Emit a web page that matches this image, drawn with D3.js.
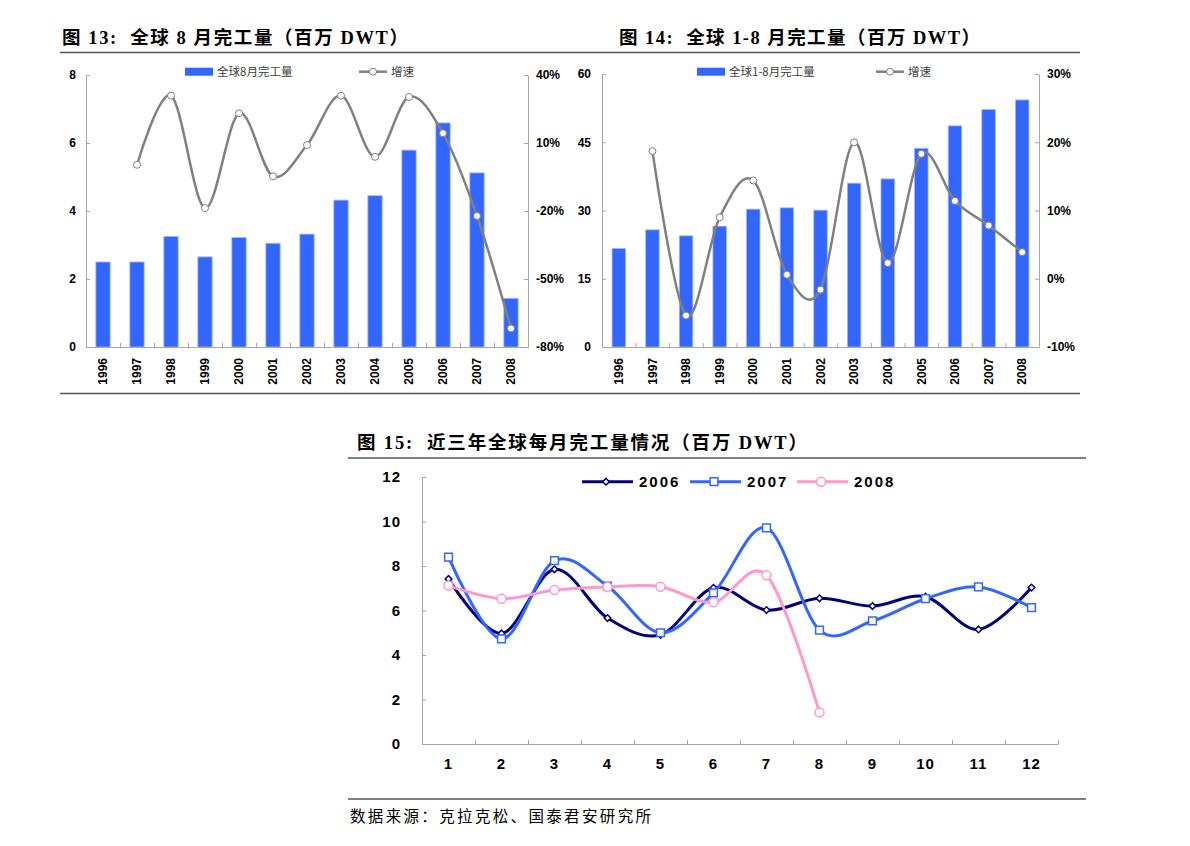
<!DOCTYPE html>
<html>
<head>
<meta charset="utf-8">
<script src="https://cdn.jsdelivr.net/npm/d3@7"></script>
<style>
    body { margin: 0; background: #fff; }
    svg text { font-family: "Liberation Sans", Arial, sans-serif; }
    .title { font-family: "Liberation Serif", "Noto Sans CJK SC", serif; font-weight: bold; font-size: 18.5px; fill: #000; white-space: pre; }
    .source { font-family: "Noto Sans CJK SC", sans-serif; font-size: 15.5px; fill: #000; }
    .axis .domain, .axis .tick line { stroke: #a6a6a6; }
    .axis .tick text { font-weight: bold; fill: #000; }
    .legend { font-family: "Noto Sans CJK SC", "Liberation Sans", sans-serif; font-size: 11.5px; fill: #404040; }
</style>
</head>
<body>
<svg id="chart" width="1190" height="846"></svg>
<script>
// Data
const years = ['1996', '1997', '1998', '1999', '2000', '2001', '2002', '2003', '2004', '2005', '2006', '2007', '2008'];
const augOutput = [2.5, 2.5, 3.25, 2.65, 3.22, 3.05, 3.32, 4.32, 4.45, 5.79, 6.59, 5.12, 1.43];
const augGrowth = [null, 0.4, 30.9, -18.7, 23.1, -4.7, 9.1, 30.9, 3.9, 30.3, 14.3, -22.2, -71.8];
const ytdOutput = [21.65, 25.75, 24.43, 26.55, 30.29, 30.58, 30.07, 36.0, 36.94, 43.67, 48.6, 52.2, 54.3];
const ytdGrowth = [null, 18.7, -5.4, 9.0, 14.4, 0.6, -1.6, 20.0, 2.3, 18.3, 11.4, 7.8, 3.9];

const months = ['1', '2', '3', '4', '5', '6', '7', '8', '9', '10', '11', '12'];
const m2006 = [7.42, 4.97, 7.85, 5.66, 4.91, 7.02, 6.02, 6.55, 6.2, 6.62, 5.15, 7.03];
const m2007 = [8.4, 4.72, 8.24, 7.1, 5.0, 6.79, 9.71, 5.12, 5.53, 6.53, 7.06, 6.13];
const m2008 = [7.12, 6.53, 6.92, 7.06, 7.07, 6.37, 7.58, 1.42];

const svg = d3.select('#chart');

// titles and rules
function title(x, y, txt, len) {
    svg.append('text').attr('class', 'title').attr('x', x).attr('y', y)
        .attr('textLength', len).attr('lengthAdjust', 'spacing').text(txt);
}
function rule(x1, x2, y) {
    svg.append('line').attr('x1', x1).attr('x2', x2).attr('y1', y).attr('y2', y)
        .attr('stroke', '#555').attr('stroke-width', 1.5);
}
title(62, 44, '图 13:  全球 8 月完工量（百万 DWT）', 346);
title(619, 44, '图 14:  全球 1-8 月完工量（百万 DWT）', 361);
title(357, 449, '图 15:  近三年全球每月完工量情况（百万 DWT）', 450);
rule(60, 1080, 52.5);
rule(60, 1080, 393.5);
rule(348, 1086, 458);
rule(348, 1086, 799);
svg.append('text').attr('class', 'source').attr('x', 350).attr('y', 822)
    .attr('textLength', 301).attr('lengthAdjust', 'spacing').text('数据来源：克拉克松、国泰君安研究所');

// bar + growth line combo
function drawCombo(o) {
    const g = svg.append('g');
    const x = d3.scaleBand().domain(years).range([o.x0, o.x1])
        .paddingInner(o.pad).paddingOuter(o.pad / 2);
    const xb = d3.scaleLinear().domain([0, years.length]).range([o.x0, o.x1]);
    const y = d3.scaleLinear().domain([0, o.yMax]).range([o.yB, o.yT]);
    const y2 = d3.scaleLinear().domain(o.y2Dom).range([o.yB, o.yT]);

    g.selectAll('rect.bar').data(o.bars).join('rect')
        .attr('class', 'bar')
        .attr('x', (d, i) => x(years[i]))
        .attr('y', d => y(d))
        .attr('width', x.bandwidth())
        .attr('height', d => o.yB - y(d))
        .attr('fill', '#3366ff')
        .attr('stroke', '#9db4ff')
        .attr('stroke-width', 0.8);

    g.append('g').attr('class', 'axis').attr('transform', `translate(${o.x0},0)`)
        .call(d3.axisLeft(y).tickValues(o.yTicks).tickSizeInner(-4).tickSizeOuter(0).tickPadding(o.lPad))
        .selectAll('text').style('font-size', '12px');
    g.append('g').attr('class', 'axis').attr('transform', `translate(${o.x1},0)`)
        .call(d3.axisRight(y2).tickValues(o.y2Ticks).tickFormat(d => d + '%').tickSizeInner(-4).tickSizeOuter(0).tickPadding(8))
        .selectAll('text').style('font-size', '12px');
    g.append('g').attr('class', 'axis').attr('transform', `translate(0,${o.yB})`)
        .call(d3.axisBottom(xb).tickValues(d3.range(years.length + 1)).tickFormat('').tickSizeInner(-4).tickSizeOuter(0));
    const xl = g.append('g').attr('class', 'axis').attr('transform', `translate(0,${o.yB})`)
        .call(d3.axisBottom(x).tickSize(0));
    xl.select('.domain').remove();
    xl.selectAll('text').style('font-size', '12px')
        .attr('transform', 'rotate(-90)').attr('x', -11).attr('y', 0)
        .attr('dy', '0.35em').attr('text-anchor', 'end');

    const pts = o.growth.map((d, i) => ({ v: d, cx: x(years[i]) + x.bandwidth() / 2 }));
    const line = d3.line().defined(d => d.v != null)
        .x(d => d.cx).y(d => y2(d.v)).curve(d3.curveCardinal.tension(0));
    g.append('path').datum(pts).attr('d', line)
        .attr('fill', 'none').attr('stroke', '#808080').attr('stroke-width', 2.5);
    g.selectAll('circle.pt').data(pts.filter(d => d.v != null)).join('circle')
        .attr('class', 'pt').attr('cx', d => d.cx).attr('cy', d => y2(d.v)).attr('r', 3.5)
        .attr('fill', '#fff').attr('stroke', '#808080').attr('stroke-width', 1);

    // legend
    const ly = 71.7;
    g.append('rect').attr('x', o.lg[0]).attr('y', ly - 4).attr('width', 28).attr('height', 8).attr('fill', '#3366ff');
    g.append('text').attr('class', 'legend').attr('x', o.lg[0] + 32).attr('y', ly).attr('dy', '0.36em').text(o.barName);
    g.append('line').attr('x1', o.lg[1]).attr('x2', o.lg[1] + 28).attr('y1', ly).attr('y2', ly)
        .attr('stroke', '#808080').attr('stroke-width', 2.5);
    g.append('circle').attr('cx', o.lg[1] + 14).attr('cy', ly).attr('r', 3.5)
        .attr('fill', '#fff').attr('stroke', '#808080');
    g.append('text').attr('class', 'legend').attr('x', o.lg[1] + 32).attr('y', ly).attr('dy', '0.36em').text('增速');
}

drawCombo({
    x0: 86, x1: 528, yB: 347, yT: 75, pad: 0.58, lPad: 10,
    yMax: 8, yTicks: [0, 2, 4, 6, 8],
    y2Dom: [-80, 40], y2Ticks: [-80, -50, -20, 10, 40],
    bars: augOutput, growth: augGrowth, barName: '全球8月完工量', lg: [185, 359]
});
drawCombo({
    x0: 602, x1: 1039, yB: 347, yT: 74, pad: 0.6, lPad: 11,
    yMax: 60, yTicks: [0, 15, 30, 45, 60],
    y2Dom: [-10, 30], y2Ticks: [-10, 0, 10, 20, 30],
    bars: ytdOutput, growth: ytdGrowth, barName: '全球1-8月完工量', lg: [697, 876]
});

// monthly chart
const mx0 = 422, mx1 = 1058, myB = 744, myT = 477;
const mx = d3.scaleBand().domain(months).range([mx0, mx1]);
const mxb = d3.scaleLinear().domain([0, months.length]).range([mx0, mx1]);
const my = d3.scaleLinear().domain([0, 12]).range([myB, myT]);
const mg = svg.append('g');

mg.append('g').attr('class', 'axis').attr('transform', `translate(${mx0},0)`)
    .call(d3.axisLeft(my).tickValues(d3.range(0, 13, 2)).tickSizeInner(-4).tickSizeOuter(0).tickPadding(21))
    .selectAll('text').style('font-size', '15px').style('letter-spacing', '1px');
mg.append('g').attr('class', 'axis').attr('transform', `translate(0,${myB})`)
    .call(d3.axisBottom(mxb).tickValues(d3.range(months.length + 1)).tickFormat('').tickSizeInner(-4).tickSizeOuter(0));
const mxl = mg.append('g').attr('class', 'axis').attr('transform', `translate(0,${myB})`)
    .call(d3.axisBottom(mx).tickSize(0).tickPadding(14));
mxl.select('.domain').remove();
mxl.selectAll('text').style('font-size', '15px').style('letter-spacing', '1px');

const series = [
    { name: '2006', values: m2006, color: '#000080', marker: 'diamond' },
    { name: '2007', values: m2007, color: '#3366ff', marker: 'square' },
    { name: '2008', values: m2008, color: '#ff99cc', marker: 'circle' }
];
const mline = d3.line().x((d, i) => mx(months[i]) + mx.bandwidth() / 2).y(d => my(d))
    .curve(d3.curveCardinal.tension(0));

function marker(sel, type, color) {
    if (type === 'circle') {
        sel.append('circle').attr('r', 4.5);
    } else if (type === 'square') {
        sel.append('path').attr('d', d3.symbol(d3.symbolSquare, 60)());
    } else {
        sel.append('path').attr('d', d3.symbol(d3.symbolSquare, 22)()).attr('transform', 'rotate(45)');
    }
    sel.selectAll('circle,path').attr('fill', '#fff').attr('stroke', color).attr('stroke-width', 1.5);
}

series.forEach(s => {
    mg.append('path').datum(s.values).attr('d', mline)
        .attr('fill', 'none').attr('stroke', s.color).attr('stroke-width', 3);
    mg.selectAll(null).data(s.values).join('g')
        .attr('transform', (d, i) => `translate(${mx(months[i]) + mx.bandwidth() / 2},${my(d)})`)
        .each(function () { marker(d3.select(this), s.marker, s.color); });
});

// monthly legend
const legX = [582, 690, 797];
series.forEach((s, i) => {
    const lg = mg.append('g').attr('transform', `translate(${legX[i]},481.7)`);
    lg.append('line').attr('x1', 0).attr('x2', 51).attr('stroke', s.color).attr('stroke-width', 3);
    marker(lg.append('g').attr('transform', 'translate(24,0)'), s.marker, s.color);
    lg.append('text').attr('x', 57).attr('dy', '0.36em')
        .style('font-size', '15px').style('font-weight', 'bold').style('letter-spacing', '2px')
        .text(s.name);
});
</script>
</body>
</html>
